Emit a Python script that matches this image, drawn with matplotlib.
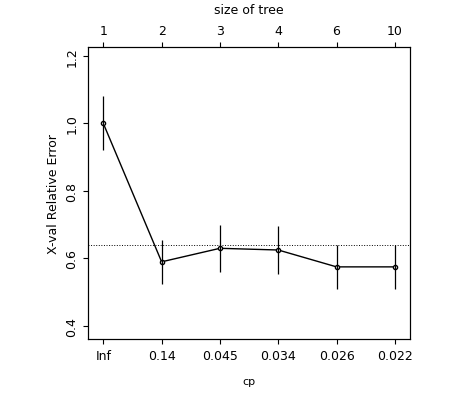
import matplotlib
matplotlib.use("Agg")
import matplotlib.pyplot as plt

cp_labels = ["Inf", "0.14", "0.045", "0.034", "0.026", "0.022"]
tree_sizes = ["1", "2", "3", "4", "6", "10"]
xerror = [1.0, 0.59, 0.63, 0.625, 0.575, 0.575]
xstd = [0.08, 0.065, 0.07, 0.07, 0.065, 0.065]
threshold = 0.64

fig = plt.figure(figsize=(4.74, 4.02), dpi=100)
ax = fig.add_axes([0.186, 0.154, 0.679, 0.727])
x = list(range(len(xerror)))

ax.plot(x, xerror, color="black", lw=1, marker="o", ms=3, mfc="white", mec="black")
ax.vlines(x, [e - s for e, s in zip(xerror, xstd)], [e + s for e, s in zip(xerror, xstd)],
          color="black", lw=0.9)
ax.axhline(threshold, color="black", lw=0.7, ls=":")

ax.set_xlim(-0.26, 5.26)
ax.set_ylim(0.361, 1.227)
ax.set_xticks(x)
ax.set_xticklabels(cp_labels, fontsize=9)
ax.set_yticks([0.4, 0.6, 0.8, 1.0, 1.2])
ax.set_yticklabels(["0.4", "0.6", "0.8", "1.0", "1.2"], fontsize=9, rotation=90, va="center")
ax.set_xlabel("cp", fontsize=8, labelpad=10)
ax.set_ylabel("X-val Relative Error", fontsize=9)

top = ax.twiny()
top.set_xlim(ax.get_xlim())
top.set_xticks(x)
top.set_xticklabels(tree_sizes, fontsize=9)
top.set_xlabel("size of tree", fontsize=9, labelpad=8)

for a in (ax, top):
    for sp in a.spines.values():
        sp.set_linewidth(0.8)

fig.savefig("out.png", dpi=100)
